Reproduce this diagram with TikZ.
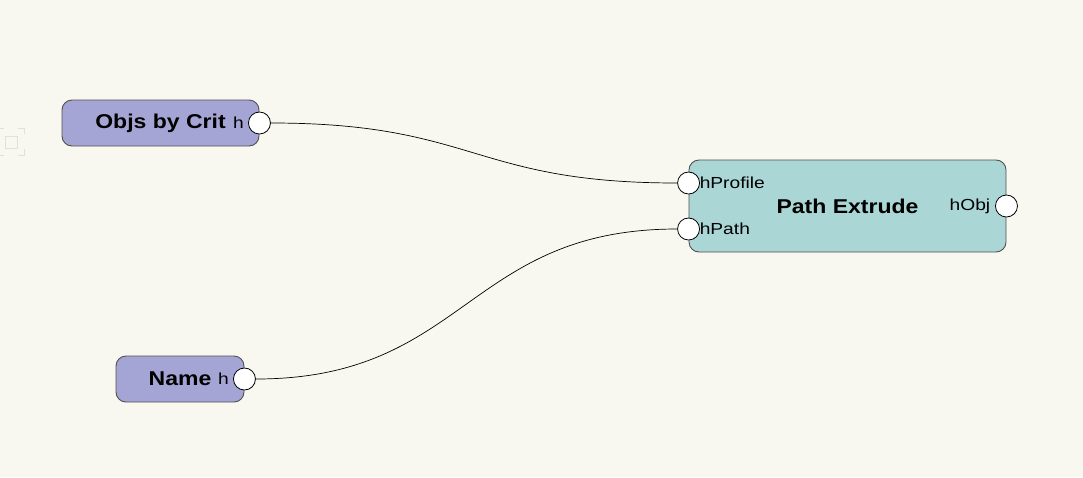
\documentclass[tikz,border=0pt]{standalone}
\usepackage{fontspec}
\setmainfont{Liberation Sans}
\newfontfamily\titlefont[FakeStretch=1.15]{Liberation Sans}
\newfontfamily\portfont[FakeStretch=1.2]{Liberation Sans}
\usetikzlibrary{positioning}
\definecolor{canvas}{HTML}{F8F8F0}
\definecolor{critfill}{HTML}{A5A5D5}
\definecolor{extrfill}{HTML}{ABD6D6}
\definecolor{edgegray}{HTML}{505050}
\tikzset{
  objbox/.style={draw=edgegray, line width=0.9pt, rounded corners=10pt, inner sep=0pt},
  portdot/.style={circle, draw=black, fill=white, line width=0.8pt, minimum size=22pt, inner sep=0pt},
  portlbl/.style={font=\portfont\fontsize{16}{18}\selectfont, inner sep=0pt},
  titlelbl/.style={font=\titlefont\bfseries\fontsize{20}{22}\selectfont, inner sep=0pt},
  wire/.style={line width=0.7pt}
}

\begin{document}
\begin{tikzpicture}[x=1pt, y=-1pt]
  \fill[canvas] (0,0) rectangle (1083,477);
  \useasboundingbox (0,0) rectangle (1083,477);
  % faint marker at the left edge
  \draw[black!12, line width=0.7pt] (5,136) rectangle (17,148);
  \draw[black!12, line width=0.7pt] (0,128) -- (4,128) (18,128) -- (24,128) -- (24,134);
  \draw[black!12, line width=0.7pt] (0,155) -- (4,155) (18,155) -- (24,155) -- (24,149);

  % source nodes
  \node[objbox, fill=critfill, minimum width=197pt, minimum height=46pt] (crit) at (160.5,123) {};
  \node[titlelbl] at (crit.center) {Objs by Crit};
  \node[portdot] (critout) at (crit.east) {};
  \node[portlbl, left=4pt of critout] {h};

  \node[objbox, fill=critfill, minimum width=128pt, minimum height=46pt] (name) at (180,379) {};
  \node[titlelbl] at (name.center) {Name};
  \node[portdot] (nameout) at (name.east) {};
  \node[portlbl, left=4pt of nameout] {h};

  % extrude node
  \node[objbox, fill=extrfill, minimum width=317pt, minimum height=92pt] (extr) at (847.5,206) {};
  \node[titlelbl] at (extr.center) {Path Extrude};
  \node[portdot] (hprof) at ([yshift=23pt]extr.west) {};
  \node[portdot] (hpath) at ([yshift=-23pt]extr.west) {};
  \node[portdot] (hobj) at (extr.east) {};
  \node[portlbl, anchor=west] at ([xshift=11pt]hprof.center) {hProfile};
  \node[portlbl, anchor=west] at ([xshift=11pt]hpath.center) {hPath};
  \node[portlbl, anchor=east] at ([xshift=-16pt]hobj.center) {hObj};

  % wires
  \draw[wire] (critout.east) .. controls +(205,0) and +(-205,0) .. (hprof.west);
  \draw[wire] (nameout.east) .. controls +(210,0) and +(-210,0) .. (hpath.west);
\end{tikzpicture}
\end{document}
